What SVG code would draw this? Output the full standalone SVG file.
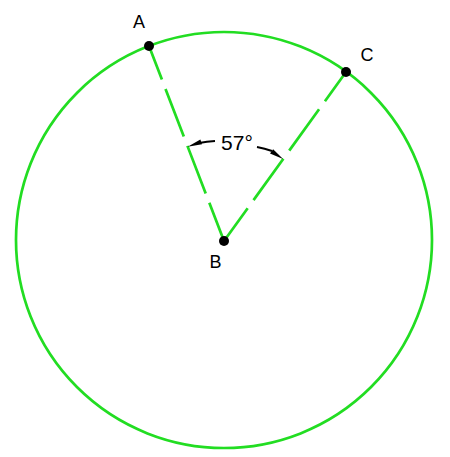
<svg xmlns="http://www.w3.org/2000/svg" width="450" height="457" viewBox="0 0 450 457">
<style>
.g{fill:none;stroke:#22dd22;stroke-width:2.7}
.d{stroke-dasharray:36 10 51 10 51 10 60}
.dot{fill:#000}
.lbl{font-family:"Liberation Sans",Arial,sans-serif;font-size:18px;fill:#000;text-anchor:middle}
.dim{fill:none;stroke:#000;stroke-width:2}
</style>
<rect width="450" height="457" fill="#fff"/>
<g id="connectors">
<circle id="circle" class="g" cx="224" cy="240" r="208"/>
<line class="g d" x1="149" y1="46" x2="224" y2="241"/>
<line class="g d" x1="346" y1="72" x2="224" y2="241"/>
</g>
<g id="dimension">
<path class="dim" d="M215,141 A100.5 100.5 0 0 0 199,143"/>
<polygon points="187.7,146.7 202,144.2 200.4,139.4"/>
<path class="dim" d="M257,147 A100.5 100.5 0 0 1 272,151"/>
<polygon points="283.1,159.1 270,153.4 273.1,149.3"/>
<text x="237" y="150" class="lbl" style="font-size:21px">57°</text>
</g>
<g id="A"><circle class="dot" cx="149" cy="46" r="5"/><text class="lbl" x="139" y="28">A</text></g>
<g id="C"><circle class="dot" cx="346" cy="72" r="5"/><text class="lbl" x="367" y="61">C</text></g>
<g id="B"><circle class="dot" cx="224" cy="241" r="5"/><text class="lbl" x="215.5" y="268">B</text></g>
</svg>
